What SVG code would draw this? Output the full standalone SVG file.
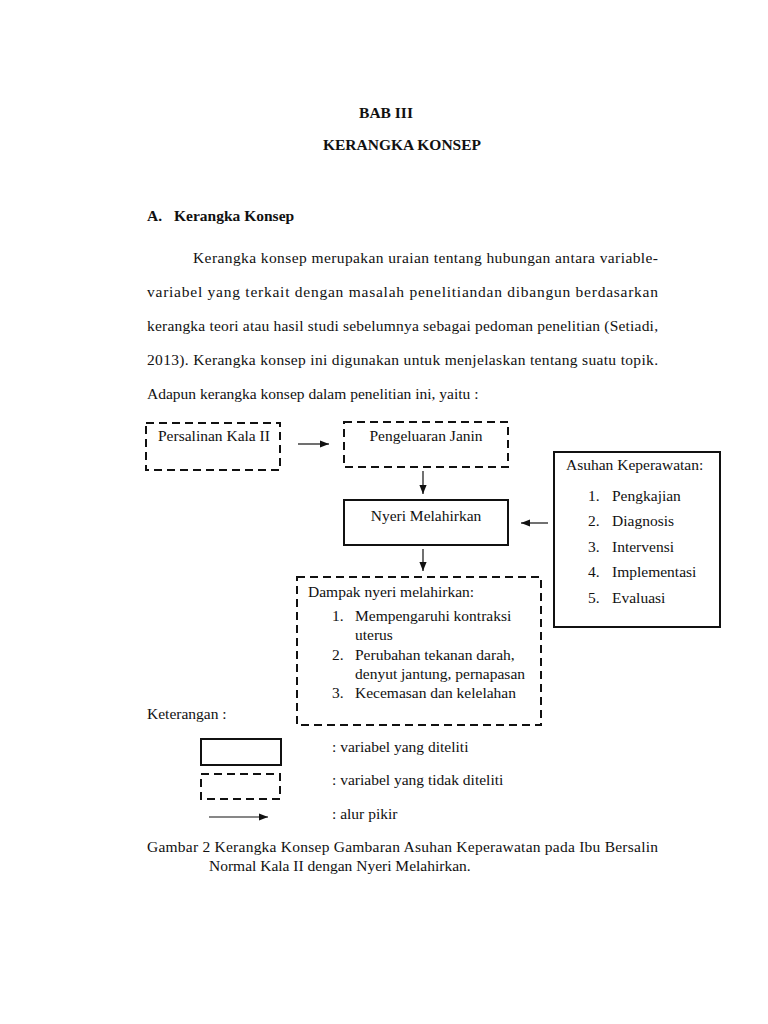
<svg xmlns="http://www.w3.org/2000/svg" width="768" height="1024" viewBox="0 0 768 1024">
<style>
text{font-family:"Liberation Serif","Times New Roman",serif;font-size:15.5px;fill:#111}
.b{font-weight:bold}
.c{text-anchor:middle}
.solid{fill:none;stroke:#111;stroke-width:2}
.dash{fill:none;stroke:#111;stroke-width:2;stroke-dasharray:8 5}
.conn{stroke:#111;stroke-width:1.2;fill:none}
</style>
<defs>
<marker id="ah" viewBox="0 0 10 10" refX="10" refY="5" markerWidth="9" markerHeight="9" markerUnits="userSpaceOnUse" orient="auto">
<path d="M0,1 L10,5 L0,9 z" fill="#111"/>
</marker>
</defs>
<rect width="768" height="1024" fill="#fff"/>
<g id="header">
<text class="b c" x="386" y="118">BAB III</text>
<text class="b c" x="402" y="150">KERANGKA KONSEP</text>
<text class="b" x="147" y="221">A.</text>
<text class="b" x="174" y="221">Kerangka Konsep</text>
</g>
<g id="paragraph">
<text x="193" y="263" textLength="465" lengthAdjust="spacing">Kerangka konsep merupakan uraian tentang hubungan antara variable-</text>
<text x="147" y="297" textLength="511" lengthAdjust="spacing">variabel yang terkait dengan masalah penelitiandan dibangun berdasarkan</text>
<text x="147" y="331" textLength="511" lengthAdjust="spacing">kerangka teori atau hasil studi sebelumnya sebagai pedoman penelitian (Setiadi,</text>
<text x="147" y="365" textLength="511" lengthAdjust="spacing">2013). Kerangka konsep ini digunakan untuk menjelaskan tentang suatu topik.</text>
<text x="147" y="399">Adapun kerangka konsep dalam penelitian ini, yaitu :</text>
</g>
<g id="persalinan">
<rect class="dash" x="146" y="423" width="134" height="47"/>
<text x="158" y="441">Persalinan Kala II</text>
</g>
<g id="pengeluaran">
<rect class="dash" x="344" y="422" width="164" height="45"/>
<text class="c" x="426" y="441">Pengeluaran Janin</text>
</g>
<g id="nyeri">
<rect class="solid" x="344" y="500" width="164" height="45"/>
<text class="c" x="426" y="521">Nyeri Melahirkan</text>
</g>
<g id="dampak">
<rect class="dash" x="297" y="577" width="244" height="148"/>
<text x="308" y="597">Dampak nyeri melahirkan:</text>
<text x="332" y="621">1.</text>
<text x="355" y="621">Mempengaruhi kontraksi</text>
<text x="355" y="640">uterus</text>
<text x="332" y="660">2.</text>
<text x="355" y="660">Perubahan tekanan darah,</text>
<text x="355" y="679">denyut jantung, pernapasan</text>
<text x="332" y="698">3.</text>
<text x="355" y="698">Kecemasan dan kelelahan</text>
</g>
<g id="asuhan">
<rect class="solid" x="554" y="452" width="166" height="175"/>
<text x="566" y="470">Asuhan Keperawatan:</text>
<text x="588" y="501">1.</text><text x="612" y="501">Pengkajian</text>
<text x="588" y="526">2.</text><text x="612" y="526">Diagnosis</text>
<text x="588" y="552">3.</text><text x="612" y="552">Intervensi</text>
<text x="588" y="577">4.</text><text x="612" y="577">Implementasi</text>
<text x="588" y="603">5.</text><text x="612" y="603">Evaluasi</text>
</g>
<g id="connectors">
<line class="conn" x1="298" y1="444" x2="329" y2="444" marker-end="url(#ah)"/>
<line class="conn" x1="423" y1="471" x2="423" y2="494" marker-end="url(#ah)"/>
<line class="conn" x1="548" y1="523" x2="521" y2="523" marker-end="url(#ah)"/>
<line class="conn" x1="423" y1="549" x2="423" y2="571" marker-end="url(#ah)"/>
</g>
<g id="legend">
<text x="147" y="719">Keterangan :</text>
<rect class="solid" x="201" y="739" width="80" height="26"/>
<rect class="dash" x="201" y="774" width="79" height="25"/>
<line class="conn" x1="209" y1="817" x2="268" y2="817" marker-end="url(#ah)"/>
<text x="332" y="752">: variabel yang diteliti</text>
<text x="332" y="785">: variabel yang tidak diteliti</text>
<text x="332" y="819">: alur pikir</text>
</g>
<g id="caption">
<text x="147" y="852" textLength="511" lengthAdjust="spacing">Gambar 2 Kerangka Konsep Gambaran Asuhan Keperawatan pada Ibu Bersalin</text>
<text x="209" y="871">Normal Kala II dengan Nyeri Melahirkan.</text>
</g>
</svg>
